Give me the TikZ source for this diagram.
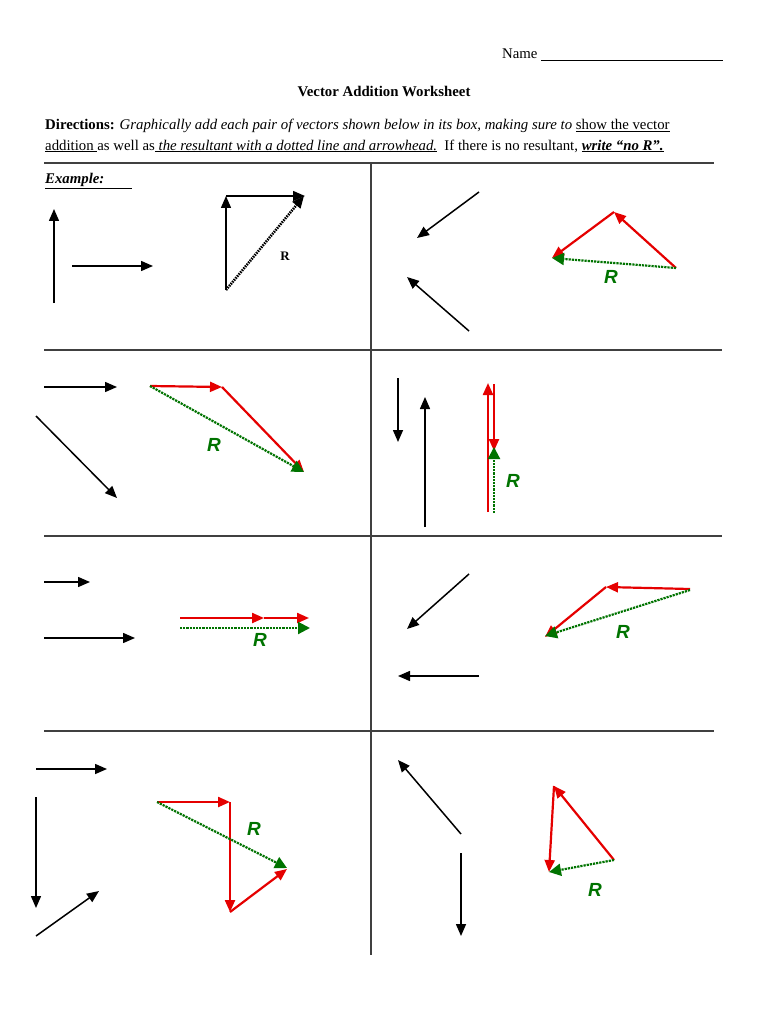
\documentclass[tikz,border=0pt]{standalone}
\usepackage{fontspec}
\setmainfont{Liberation Serif}
\setsansfont{Liberation Sans}
\usetikzlibrary{arrows.meta}
\begin{document}
\begin{tikzpicture}[x=1pt,y=-1pt,
  vec/.style={line width=1.5pt,-{Triangle[length=12pt,width=10pt]}},
  blk/.style={vec,black},
  red/.style={vec,red!90!black,line width=2.2pt},
  res/.style={vec,green!45!black,line width=2.2pt,densely dotted,-{Triangle[length=12pt,width=12pt]}},
  rl/.style={text=green!45!black,font=\sffamily\bfseries\itshape\fontsize{19}{22}\selectfont},
  grid/.style={line width=1.2pt,black!75},
  txt/.style={font=\fontsize{14.8}{17}\selectfont,inner sep=0pt}]
\useasboundingbox (0,0) rectangle (768,1024);
\node[txt,anchor=west] (name) at (502,55) {Name \underline{\hspace{182pt}}};
\node[txt,font=\bfseries\fontsize{14.8}{17}\selectfont] (title) at (384,91) {Vector Addition Worksheet};
\node[txt,anchor=west] (d1) at (45,126) {\textbf{Directions:} \textit{Graphically add each pair of vectors shown below in its box, making sure to} \underline{show the vector}};
\node[txt,anchor=west] (d2) at (45,146) {\underline{addition }as well as\underline{ \textit{the resultant with a dotted line and arrowhead.}}\ \ If there is no resultant, \underline{\textbf{\textit{write “no R”.}}}};
\node[txt,anchor=west] (ex) at (45,181) {\underline{\textbf{\textit{Example:}}\hspace{28pt}}};
% grid
\draw[grid] (44,163) -- (714,163);
\draw[grid] (44,350) -- (722,350);
\draw[grid] (44,536) -- (722,536);
\draw[grid] (44,731) -- (714,731);
\draw[grid] (371,163) -- (371,955);
% cell 1
\draw[blk] (54,303) -- (54,209);
\draw[blk] (72,266) -- (153,266);
\draw[blk] (226,290) -- (226,196);
\draw[blk] (226,196) -- (305,196);
\draw[vec,densely dotted,line width=2.6pt] (226,290) -- (304,196);
\node[font=\bfseries\fontsize{13}{15}\selectfont] (r0) at (285,256) {R};
% cell 2
\draw[blk] (479,192) -- (417,238);
\draw[blk] (469,331) -- (407,277);
\draw[red] (676,268) -- (614,212);
\draw[red] (614,212) -- (552,258);
\draw[res] (676,268) -- (552,258);
\node[rl] (r2) at (611,277) {R};
% cell 3
\draw[blk] (44,387) -- (117,387);
\draw[blk] (36,416) -- (117,498);
\draw[red] (150,386) -- (222,387);
\draw[red] (222,387) -- (304,472);
\draw[res] (150,386) -- (304,472);
\node[rl] (r3) at (214,445) {R};
% cell 4
\draw[blk] (398,378) -- (398,442);
\draw[blk] (425,527) -- (425,397);
\draw[red] (488,512) -- (488,383);
\draw[red] (494,384) -- (494,451);
\draw[res] (494,513) -- (494,447);
\node[rl] (r4) at (513,481) {R};
% cell 5
\draw[blk] (44,582) -- (90,582);
\draw[blk] (44,638) -- (135,638);
\draw[red] (180,618) -- (264,618);
\draw[red] (264,618) -- (309,618);
\draw[res] (180,628) -- (310,628);
\node[rl] (r5) at (260,640) {R};
% cell 6
\draw[blk] (469,574) -- (407,629);
\draw[blk] (479,676) -- (398,676);
\draw[red] (690,589) -- (606,587);
\draw[red] (606,587) -- (545,637);
\draw[res] (690,590) -- (545,636);
\node[rl] (r6) at (623,632) {R};
% cell 7
\draw[blk] (36,769) -- (107,769);
\draw[blk] (36,797) -- (36,908);
\draw[blk] (36,936) -- (99,891);
\draw[red] (157,802) -- (230,802);
\draw[red] (230,802) -- (230,912);
\draw[red] (230,912) -- (287,869);
\draw[res] (157,802) -- (287,868);
\node[rl] (r7) at (254,829) {R};
% cell 8
\draw[blk] (461,834) -- (398,760);
\draw[blk] (461,853) -- (461,936);
\draw[red] (614,860) -- (554,786);
\draw[red] (554,786) -- (549,872);
\draw[res] (614,860) -- (549,872);
\node[rl] (r8) at (595,890) {R};
\end{tikzpicture}
\end{document}
